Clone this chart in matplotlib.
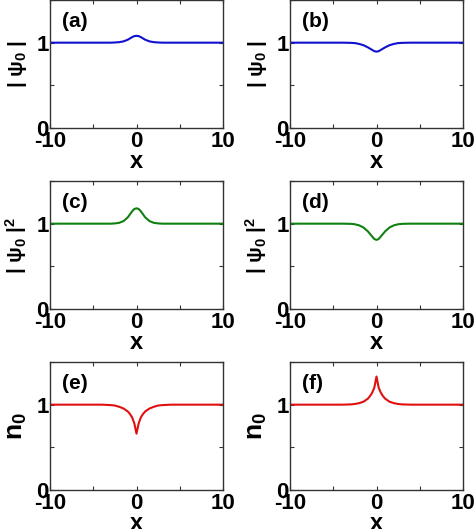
import numpy as np
import matplotlib
matplotlib.use('Agg')
import matplotlib.pyplot as plt

plt.rcParams['font.family'] = ['Liberation Sans', 'DejaVu Sans']
plt.rcParams['font.weight'] = 'bold'
plt.rcParams['mathtext.fontset'] = 'custom'
plt.rcParams['mathtext.rm'] = 'Liberation Sans:bold'
plt.rcParams['mathtext.it'] = 'Liberation Sans:bold'
plt.rcParams['mathtext.bf'] = 'Liberation Sans:bold'

# x positions (common to all panels)
x = [-10, -4, -3, -2.5, -2, -1.5, -1, -0.75, -0.5, -0.25, 0,
     0.25, 0.5, 0.75, 1, 1.5, 2, 2.5, 3, 4, 10]

# (a) |psi0|, bright soliton-like bump
psi_a = [1.0, 1.0, 1.0, 1.002, 1.006, 1.015, 1.035, 1.05, 1.065, 1.077, 1.08,
         1.077, 1.065, 1.05, 1.035, 1.015, 1.006, 1.002, 1.0, 1.0, 1.0]
# (b) |psi0|, dip
psi_b = [1.0, 1.0, 0.998, 0.995, 0.985, 0.97, 0.945, 0.93, 0.915, 0.9, 0.895,
         0.9, 0.915, 0.93, 0.945, 0.97, 0.985, 0.995, 0.998, 1.0, 1.0]
# (c) |psi0|^2
dens_c = [1.0, 1.0, 1.0, 1.003, 1.01, 1.03, 1.075, 1.11, 1.145, 1.172, 1.18,
          1.172, 1.145, 1.11, 1.075, 1.03, 1.01, 1.003, 1.0, 1.0, 1.0]
# (d) |psi0|^2
dens_d = [1.0, 1.0, 0.998, 0.993, 0.98, 0.955, 0.91, 0.88, 0.85, 0.82, 0.81,
          0.82, 0.85, 0.88, 0.91, 0.955, 0.98, 0.993, 0.998, 1.0, 1.0]
# (e) n0, cusp dip
n_e = [1.0, 1.0, 0.995, 0.99, 0.975, 0.955, 0.92, 0.89, 0.85, 0.78, 0.66,
       0.78, 0.85, 0.89, 0.92, 0.955, 0.975, 0.99, 0.995, 1.0, 1.0]
# (f) n0, cusp peak
n_f = [1.0, 1.0, 1.003, 1.008, 1.018, 1.035, 1.07, 1.1, 1.14, 1.2, 1.33,
       1.2, 1.14, 1.1, 1.07, 1.035, 1.018, 1.008, 1.003, 1.0, 1.0]

series = [psi_a, psi_b, dens_c, dens_d, n_e, n_f]
tags = ['(a)', '(b)', '(c)', '(d)', '(e)', '(f)']
colors = ['#1010d0', '#1010d0', '#108010', '#108010', '#e01010', '#e01010']
ylabels = [r'| $\psi_0$ |', r'| $\psi_0$ |',
           r'| $\psi_0$ |$^2$', r'| $\psi_0$ |$^2$',
           r'$\mathbf{n_0}$', r'$\mathbf{n_0}$']
ylabel_sizes = [15, 15, 15, 15, 19, 19]

W, H = 474, 529
fig = plt.figure(figsize=(W / 100, H / 100), dpi=100)

lefts = [50, 290]
tops = [0, 181, 362]
aw, ah = 173, 128

for i in range(6):
    r, c = divmod(i, 2)
    ax = fig.add_axes([lefts[c] / W, 1 - (tops[r] + ah) / H, aw / W, ah / H])
    ax.plot(x, series[i], color=colors[i], lw=1.5)
    ax.set_xlim(-10, 10)
    ax.set_ylim(0, 1.5)
    ax.set_xticks([-10, -5, 0, 5, 10])
    ax.set_xticklabels(['-10', '', '0', '', '10'])
    ax.set_yticks([0, 0.5, 1, 1.5])
    ax.set_yticklabels(['0', '', '1', ''])
    ax.tick_params(direction='in', top=True, right=True, length=3,
                   width=0.8, labelsize=16, color='#333333')
    ax.tick_params(axis='x', pad=2)
    ax.tick_params(axis='y', pad=1)
    for s in ax.spines.values():
        s.set_color('#333333')
        s.set_linewidth(1.0)
    ax.set_xlabel('x', fontsize=17, fontweight='bold', labelpad=-1)
    ax.set_ylabel(ylabels[i], fontsize=ylabel_sizes[i], fontweight='bold',
                  labelpad=5)
    ax.text(-8.6, 1.25, tags[i], fontsize=15, fontweight='bold', va='center')

fig.savefig('out.png', dpi=100)
